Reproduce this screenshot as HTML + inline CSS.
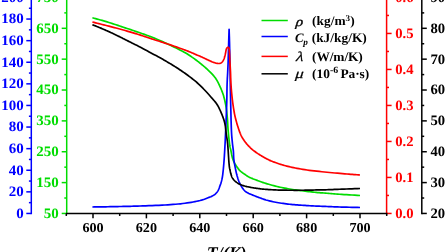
<!DOCTYPE html>
<html><head><meta charset="utf-8"><title>T/(K)</title>
<style>html,body{margin:0;padding:0;background:#fff;width:448px;height:252px;overflow:hidden}</style>
</head><body>
<svg width="448" height="252" viewBox="0 0 448 252" style="display:block;position:absolute;left:0;top:0" font-family="'Liberation Serif', serif" font-weight="bold" font-size="14.4" text-rendering="geometricPrecision">
<rect width="448" height="252" fill="#fff"/>
<polyline fill="none" stroke="#00dc00" stroke-width="1.7" stroke-linejoin="round" points="92.40,17.80 94.02,18.24 95.62,18.68 97.22,19.11 98.82,19.54 100.43,19.98 102.06,20.43 103.71,20.90 105.40,21.40 107.13,21.93 108.88,22.47 110.67,23.04 112.47,23.62 114.28,24.22 116.09,24.81 117.90,25.41 119.70,26.00 121.51,26.60 123.35,27.21 125.21,27.83 127.06,28.45 128.88,29.06 130.66,29.67 132.37,30.25 134.00,30.80 135.54,31.32 137.02,31.83 138.44,32.31 139.81,32.78 141.14,33.24 142.45,33.69 143.73,34.15 145.00,34.60 146.21,35.03 147.33,35.43 148.39,35.81 149.44,36.19 150.52,36.60 151.66,37.04 152.91,37.53 154.30,38.10 155.85,38.75 157.52,39.46 159.30,40.22 161.14,41.02 163.02,41.86 164.91,42.70 166.78,43.56 168.60,44.40 170.44,45.27 172.34,46.18 174.28,47.13 176.20,48.07 178.06,49.01 179.83,49.90 181.46,50.74 182.90,51.50 184.14,52.17 185.21,52.77 186.14,53.32 186.97,53.83 187.73,54.32 188.47,54.80 189.21,55.29 190.00,55.80 190.80,56.33 191.58,56.85 192.34,57.37 193.09,57.89 193.82,58.41 194.55,58.93 195.27,59.46 196.00,60.00 196.73,60.54 197.44,61.09 198.15,61.64 198.86,62.19 199.56,62.76 200.27,63.33 200.98,63.91 201.70,64.50 202.43,65.10 203.16,65.71 203.90,66.33 204.64,66.96 205.38,67.60 206.12,68.25 206.86,68.92 207.60,69.60 208.35,70.31 209.13,71.06 209.92,71.83 210.70,72.61 211.46,73.39 212.19,74.16 212.88,74.90 213.50,75.60 214.06,76.26 214.56,76.90 215.03,77.50 215.46,78.10 215.86,78.69 216.24,79.28 216.62,79.88 217.00,80.50 217.37,81.14 217.73,81.80 218.07,82.47 218.40,83.14 218.72,83.80 219.02,84.46 219.31,85.09 219.60,85.70 219.87,86.28 220.13,86.84 220.38,87.38 220.61,87.91 220.84,88.43 221.06,88.95 221.28,89.47 221.50,90.00 221.72,90.54 221.93,91.08 222.14,91.62 222.34,92.16 222.54,92.69 222.74,93.23 222.92,93.77 223.10,94.30 223.27,94.83 223.43,95.35 223.59,95.87 223.74,96.39 223.88,96.91 224.02,97.44 224.16,97.97 224.30,98.50 224.43,99.03 224.56,99.56 224.69,100.08 224.81,100.61 224.93,101.15 225.05,101.70 225.18,102.29 225.30,102.90 225.42,103.52 225.55,104.13 225.67,104.75 225.79,105.40 225.92,106.09 226.04,106.84 226.17,107.67 226.30,108.60 226.44,109.63 226.58,110.76 226.72,111.97 226.87,113.24 227.01,114.56 227.15,115.90 227.28,117.25 227.40,118.60 227.50,119.94 227.58,121.28 227.66,122.65 227.73,124.03 227.80,125.45 227.88,126.91 227.98,128.43 228.10,130.00 228.25,131.70 228.42,133.55 228.61,135.48 228.81,137.44 229.01,139.37 229.21,141.19 229.41,142.86 229.60,144.30 229.78,145.51 229.96,146.52 230.14,147.40 230.32,148.16 230.49,148.87 230.67,149.55 230.84,150.24 231.00,151.00 231.16,151.80 231.30,152.60 231.44,153.38 231.58,154.16 231.71,154.93 231.86,155.67 232.02,156.40 232.20,157.10 232.39,157.77 232.58,158.41 232.78,159.02 232.99,159.62 233.21,160.21 233.45,160.80 233.71,161.39 234.00,162.00 234.32,162.63 234.66,163.27 235.02,163.91 235.41,164.56 235.80,165.19 236.20,165.82 236.60,166.42 237.00,167.00 237.39,167.55 237.78,168.09 238.17,168.61 238.57,169.11 238.98,169.60 239.40,170.08 239.84,170.55 240.30,171.00 240.79,171.44 241.31,171.87 241.86,172.28 242.41,172.69 242.97,173.08 243.53,173.46 244.07,173.83 244.60,174.20 245.11,174.56 245.61,174.92 246.11,175.26 246.60,175.60 247.08,175.92 247.56,176.23 248.03,176.53 248.50,176.80 248.94,177.04 249.34,177.25 249.73,177.44 250.12,177.62 250.52,177.79 250.96,177.97 251.45,178.17 252.00,178.40 252.63,178.65 253.31,178.93 254.04,179.21 254.81,179.51 255.60,179.81 256.41,180.11 257.21,180.41 258.00,180.70 258.75,180.98 259.45,181.25 260.14,181.51 260.84,181.77 261.60,182.05 262.44,182.34 263.40,182.66 264.50,183.00 265.78,183.39 267.20,183.81 268.75,184.27 270.38,184.74 272.05,185.21 273.73,185.67 275.40,186.10 277.00,186.50 278.56,186.87 280.12,187.21 281.69,187.54 283.25,187.86 284.81,188.16 286.38,188.45 287.94,188.73 289.50,189.00 291.06,189.26 292.62,189.50 294.19,189.72 295.75,189.94 297.31,190.15 298.88,190.35 300.44,190.55 302.00,190.75 303.56,190.95 305.12,191.15 306.69,191.35 308.25,191.55 309.81,191.74 311.38,191.92 312.94,192.09 314.50,192.25 316.06,192.40 317.62,192.54 319.19,192.66 320.75,192.78 322.31,192.90 323.88,193.01 325.44,193.13 327.00,193.25 328.51,193.37 329.94,193.49 331.34,193.61 332.75,193.73 334.23,193.86 335.81,193.98 337.55,194.11 339.50,194.25 341.68,194.39 344.06,194.54 346.60,194.70 349.25,194.86 351.96,195.02 354.69,195.18 357.38,195.34 360.00,195.50"/>
<polyline fill="none" stroke="#00f" stroke-width="1.7" stroke-linejoin="round" points="92.40,207.00 94.62,206.96 96.86,206.93 99.11,206.89 101.36,206.85 103.59,206.81 105.78,206.78 107.92,206.74 110.00,206.70 112.00,206.66 113.93,206.63 115.82,206.59 117.66,206.56 119.49,206.52 121.31,206.48 123.14,206.44 125.00,206.40 126.81,206.36 128.52,206.32 130.19,206.28 131.88,206.24 133.64,206.20 135.55,206.14 137.65,206.08 140.00,206.00 142.68,205.91 145.66,205.81 148.86,205.70 152.19,205.58 155.55,205.46 158.87,205.32 162.05,205.16 165.00,205.00 167.77,204.82 170.47,204.64 173.09,204.44 175.62,204.23 178.09,204.01 180.47,203.78 182.77,203.52 185.00,203.25 187.15,202.96 189.22,202.65 191.21,202.32 193.12,201.98 194.96,201.63 196.72,201.26 198.40,200.89 200.00,200.50 201.53,200.09 202.99,199.65 204.37,199.19 205.67,198.72 206.89,198.25 208.02,197.80 209.06,197.38 210.00,197.00 210.82,196.67 211.51,196.37 212.10,196.11 212.60,195.86 213.05,195.61 213.46,195.36 213.87,195.09 214.30,194.80 214.73,194.48 215.14,194.14 215.52,193.78 215.88,193.42 216.21,193.05 216.53,192.69 216.82,192.34 217.10,192.00 217.35,191.68 217.57,191.37 217.77,191.07 217.95,190.78 218.12,190.48 218.28,190.17 218.44,189.85 218.60,189.50 218.76,189.13 218.92,188.74 219.07,188.34 219.22,187.93 219.36,187.51 219.51,187.09 219.65,186.67 219.80,186.25 219.95,185.85 220.10,185.46 220.25,185.07 220.40,184.68 220.55,184.27 220.70,183.85 220.85,183.39 221.00,182.90 221.15,182.37 221.31,181.82 221.46,181.25 221.62,180.65 221.77,180.03 221.92,179.38 222.06,178.70 222.20,178.00 222.33,177.29 222.44,176.58 222.56,175.86 222.66,175.11 222.77,174.30 222.87,173.43 222.98,172.47 223.10,171.40 223.22,170.23 223.35,168.97 223.47,167.63 223.60,166.23 223.73,164.75 223.85,163.22 223.98,161.63 224.10,160.00 224.22,158.30 224.34,156.50 224.45,154.64 224.57,152.72 224.68,150.78 224.79,148.83 224.90,146.90 225.00,145.00 225.10,143.20 225.18,141.50 225.26,139.85 225.34,138.17 225.42,136.41 225.51,134.50 225.60,132.39 225.70,130.00 225.81,127.26 225.94,124.19 226.08,120.90 226.22,117.46 226.36,113.99 226.49,110.58 226.60,107.31 226.70,104.30 226.78,101.47 226.84,98.72 226.89,96.04 226.92,93.46 226.96,90.99 227.00,88.62 227.04,86.39 227.10,84.30 227.17,82.39 227.24,80.68 227.31,79.11 227.39,77.65 227.47,76.25 227.55,74.87 227.63,73.47 227.70,72.00 227.77,70.53 227.83,69.12 227.89,67.74 227.96,66.36 228.02,64.93 228.08,63.41 228.14,61.79 228.20,60.00 228.26,58.00 228.33,55.80 228.39,53.46 228.46,51.04 228.52,48.63 228.58,46.27 228.64,44.04 228.70,42.00 228.75,40.16 228.81,38.45 228.86,36.85 228.91,35.32 228.95,33.83 229.00,32.35 229.05,30.85 229.10,29.30 229.15,30.85 229.20,32.35 229.25,33.83 229.30,35.32 229.35,36.85 229.40,38.45 229.45,40.16 229.50,42.00 229.55,44.04 229.60,46.27 229.66,48.63 229.71,51.04 229.76,53.46 229.81,55.80 229.86,58.00 229.90,60.00 229.93,61.79 229.96,63.41 229.99,64.93 230.01,66.36 230.03,67.74 230.05,69.12 230.08,70.53 230.10,72.00 230.12,73.47 230.15,74.87 230.17,76.25 230.19,77.65 230.21,79.11 230.24,80.68 230.27,82.39 230.30,84.30 230.34,86.39 230.38,88.62 230.42,90.99 230.47,93.46 230.52,96.04 230.57,98.72 230.63,101.47 230.70,104.30 230.77,107.33 230.85,110.62 230.93,114.08 231.01,117.59 231.10,121.04 231.20,124.33 231.30,127.36 231.40,130.00 231.51,132.26 231.63,134.25 231.75,136.01 231.88,137.58 232.01,139.02 232.14,140.37 232.27,141.68 232.40,143.00 232.53,144.27 232.66,145.42 232.80,146.48 232.93,147.48 233.06,148.44 233.19,149.39 233.30,150.37 233.40,151.40 233.48,152.45 233.52,153.47 233.55,154.49 233.58,155.51 233.62,156.56 233.67,157.65 233.76,158.79 233.90,160.00 234.09,161.33 234.33,162.80 234.61,164.35 234.90,165.92 235.20,167.46 235.49,168.93 235.76,170.26 236.00,171.40 236.20,172.34 236.37,173.12 236.53,173.78 236.68,174.36 236.83,174.88 236.97,175.39 237.13,175.92 237.30,176.50 237.48,177.12 237.66,177.73 237.83,178.34 238.02,178.95 238.21,179.56 238.42,180.17 238.65,180.78 238.90,181.40 239.17,182.03 239.47,182.68 239.78,183.34 240.11,183.99 240.44,184.64 240.79,185.28 241.14,185.90 241.50,186.50 241.86,187.08 242.23,187.66 242.61,188.22 243.00,188.77 243.39,189.30 243.79,189.80 244.19,190.27 244.60,190.70 245.01,191.08 245.41,191.42 245.83,191.72 246.24,192.00 246.67,192.26 247.10,192.50 247.54,192.75 248.00,193.00 248.45,193.24 248.88,193.46 249.30,193.66 249.74,193.86 250.22,194.07 250.74,194.28 251.33,194.53 252.00,194.80 252.77,195.11 253.63,195.46 254.56,195.82 255.53,196.20 256.53,196.59 257.54,196.97 258.54,197.35 259.50,197.70 260.42,198.04 261.32,198.37 262.20,198.70 263.09,199.02 264.00,199.33 264.95,199.64 265.94,199.95 267.00,200.25 268.11,200.55 269.27,200.85 270.46,201.14 271.69,201.43 272.96,201.71 274.27,201.98 275.61,202.24 277.00,202.50 278.44,202.75 279.95,202.99 281.50,203.23 283.09,203.45 284.70,203.67 286.32,203.88 287.92,204.07 289.50,204.25 291.06,204.41 292.62,204.56 294.19,204.69 295.75,204.81 297.31,204.93 298.88,205.04 300.44,205.14 302.00,205.25 303.56,205.36 305.12,205.46 306.69,205.56 308.25,205.66 309.81,205.75 311.38,205.84 312.94,205.92 314.50,206.00 316.06,206.07 317.62,206.14 319.19,206.21 320.75,206.27 322.31,206.32 323.88,206.38 325.44,206.44 327.00,206.50 328.51,206.56 329.94,206.62 331.34,206.69 332.75,206.75 334.23,206.81 335.81,206.88 337.55,206.94 339.50,207.00 341.68,207.06 344.06,207.12 346.60,207.19 349.25,207.25 351.96,207.31 354.69,207.38 357.38,207.44 360.00,207.50"/>
<polyline fill="none" stroke="#f00" stroke-width="1.7" stroke-linejoin="round" points="92.40,22.00 94.02,22.41 95.62,22.82 97.22,23.22 98.82,23.62 100.43,24.03 102.06,24.45 103.71,24.87 105.40,25.30 107.13,25.74 108.88,26.19 110.67,26.64 112.47,27.10 114.28,27.57 116.09,28.04 117.90,28.52 119.70,29.00 121.51,29.50 123.35,30.01 125.21,30.53 127.06,31.06 128.88,31.59 130.66,32.11 132.37,32.61 134.00,33.10 135.54,33.57 137.02,34.03 138.44,34.47 139.81,34.91 141.14,35.34 142.45,35.77 143.73,36.19 145.00,36.60 146.21,37.00 147.33,37.37 148.39,37.73 149.44,38.08 150.52,38.45 151.66,38.83 152.91,39.24 154.30,39.70 155.85,40.20 157.52,40.74 159.30,41.30 161.14,41.88 163.02,42.48 164.91,43.09 166.78,43.70 168.60,44.30 170.44,44.92 172.34,45.58 174.28,46.25 176.20,46.92 178.06,47.58 179.83,48.20 181.46,48.78 182.90,49.30 184.14,49.75 185.21,50.14 186.14,50.49 186.97,50.80 187.73,51.10 188.47,51.39 189.21,51.68 190.00,52.00 190.80,52.33 191.58,52.66 192.34,52.99 193.09,53.32 193.82,53.64 194.55,53.97 195.27,54.29 196.00,54.60 196.73,54.91 197.45,55.21 198.16,55.50 198.87,55.79 199.58,56.09 200.28,56.38 200.99,56.69 201.70,57.00 202.41,57.32 203.12,57.66 203.84,58.00 204.55,58.34 205.26,58.69 205.97,59.03 206.69,59.37 207.40,59.70 208.12,60.03 208.86,60.37 209.60,60.71 210.34,61.04 211.07,61.37 211.77,61.67 212.45,61.95 213.10,62.20 213.71,62.42 214.31,62.62 214.88,62.80 215.42,62.96 215.95,63.10 216.46,63.22 216.94,63.32 217.40,63.40 217.83,63.46 218.24,63.50 218.63,63.52 218.99,63.52 219.33,63.50 219.66,63.46 219.99,63.39 220.30,63.30 220.60,63.18 220.89,63.04 221.16,62.88 221.43,62.69 221.68,62.48 221.92,62.24 222.16,61.98 222.40,61.70 222.64,61.39 222.86,61.06 223.09,60.70 223.31,60.32 223.52,59.92 223.72,59.49 223.91,59.06 224.10,58.60 224.28,58.12 224.44,57.63 224.60,57.11 224.74,56.57 224.89,56.02 225.03,55.45 225.16,54.88 225.30,54.30 225.43,53.69 225.56,53.02 225.69,52.33 225.81,51.64 225.93,50.96 226.05,50.33 226.17,49.77 226.30,49.30 226.43,48.92 226.57,48.60 226.70,48.35 226.84,48.14 226.98,47.97 227.12,47.83 227.26,47.71 227.40,47.60 227.55,47.50 227.70,47.42 227.86,47.37 228.03,47.34 228.18,47.35 228.33,47.39 228.47,47.47 228.60,47.60 228.71,47.72 228.81,47.82 228.90,47.93 228.99,48.09 229.07,48.34 229.14,48.71 229.22,49.25 229.30,50.00 229.38,51.00 229.46,52.24 229.53,53.65 229.61,55.19 229.68,56.79 229.75,58.40 229.83,59.95 229.90,61.40 229.98,62.77 230.06,64.14 230.14,65.50 230.22,66.85 230.30,68.18 230.37,69.48 230.44,70.76 230.50,72.00 230.55,73.20 230.59,74.36 230.62,75.49 230.65,76.60 230.68,77.70 230.71,78.79 230.75,79.89 230.80,81.00 230.86,82.12 230.92,83.23 230.99,84.33 231.06,85.44 231.13,86.55 231.21,87.68 231.30,88.83 231.40,90.00 231.50,91.21 231.62,92.46 231.74,93.74 231.86,95.02 231.99,96.31 232.13,97.58 232.26,98.81 232.40,100.00 232.54,101.14 232.68,102.25 232.82,103.33 232.96,104.39 233.11,105.44 233.27,106.49 233.43,107.54 233.60,108.60 233.77,109.66 233.94,110.70 234.12,111.73 234.30,112.76 234.49,113.81 234.71,114.87 234.94,115.97 235.20,117.10 235.49,118.29 235.81,119.54 236.16,120.83 236.52,122.14 236.89,123.44 237.26,124.71 237.64,125.94 238.00,127.10 238.36,128.21 238.72,129.29 239.08,130.34 239.44,131.36 239.81,132.34 240.17,133.28 240.54,134.17 240.90,135.00 241.26,135.77 241.61,136.47 241.97,137.11 242.32,137.71 242.68,138.29 243.04,138.85 243.41,139.42 243.80,140.00 244.19,140.59 244.59,141.16 245.00,141.73 245.41,142.29 245.84,142.85 246.28,143.40 246.73,143.95 247.20,144.50 247.69,145.05 248.20,145.60 248.72,146.14 249.25,146.69 249.80,147.23 250.35,147.76 250.92,148.28 251.50,148.80 252.09,149.31 252.69,149.81 253.30,150.31 253.93,150.80 254.56,151.28 255.20,151.76 255.85,152.23 256.50,152.70 257.17,153.16 257.85,153.62 258.55,154.07 259.25,154.52 259.95,154.96 260.65,155.38 261.33,155.80 262.00,156.20 262.65,156.59 263.29,156.96 263.91,157.32 264.53,157.67 265.15,158.02 265.76,158.35 266.38,158.68 267.00,159.00 267.59,159.30 268.13,159.58 268.66,159.85 269.19,160.11 269.76,160.37 270.40,160.65 271.14,160.96 272.00,161.30 273.01,161.69 274.15,162.11 275.38,162.57 276.69,163.04 278.03,163.51 279.38,163.97 280.72,164.40 282.00,164.80 283.22,165.16 284.38,165.49 285.53,165.80 286.69,166.10 287.88,166.39 289.15,166.68 290.51,166.98 292.00,167.30 293.60,167.63 295.28,167.97 297.04,168.32 298.88,168.67 300.79,169.01 302.78,169.35 304.85,169.68 307.00,170.00 309.26,170.31 311.65,170.61 314.13,170.90 316.69,171.18 319.28,171.46 321.88,171.73 324.47,172.00 327.00,172.25 329.55,172.50 332.16,172.74 334.81,172.98 337.44,173.20 340.01,173.42 342.49,173.63 344.83,173.82 347.00,174.00 348.96,174.16 350.74,174.30 352.39,174.43 353.94,174.55 355.43,174.66 356.91,174.77 358.42,174.88 360.00,175.00"/>
<polyline fill="none" stroke="#000" stroke-width="1.7" stroke-linejoin="round" points="92.40,24.70 93.37,25.09 94.35,25.49 95.35,25.90 96.34,26.30 97.31,26.70 98.25,27.08 99.16,27.45 100.00,27.80 100.77,28.12 101.48,28.41 102.13,28.69 102.76,28.96 103.38,29.22 104.02,29.49 104.68,29.78 105.40,30.10 106.16,30.44 106.94,30.78 107.74,31.14 108.56,31.51 109.39,31.89 110.24,32.28 111.11,32.69 112.00,33.10 112.93,33.54 113.90,34.00 114.91,34.48 115.93,34.97 116.94,35.45 117.92,35.93 118.84,36.38 119.70,36.80 120.45,37.17 121.11,37.50 121.70,37.81 122.27,38.10 122.85,38.40 123.47,38.72 124.18,39.08 125.00,39.50 125.97,39.99 127.06,40.53 128.24,41.12 129.46,41.73 130.68,42.34 131.87,42.94 132.99,43.50 134.00,44.00 134.84,44.41 135.52,44.75 136.10,45.03 136.67,45.30 137.27,45.60 137.99,45.95 138.87,46.41 140.00,47.00 141.44,47.77 143.17,48.69 145.09,49.72 147.11,50.81 149.13,51.91 151.06,52.95 152.82,53.90 154.30,54.70 155.50,55.34 156.49,55.87 157.33,56.32 158.07,56.71 158.76,57.07 159.44,57.44 160.17,57.84 161.00,58.30 161.92,58.82 162.86,59.36 163.84,59.91 164.82,60.48 165.80,61.05 166.76,61.62 167.70,62.17 168.60,62.70 169.43,63.19 170.20,63.64 170.93,64.08 171.65,64.51 172.39,64.95 173.17,65.44 174.04,65.98 175.00,66.60 176.07,67.29 177.22,68.04 178.44,68.83 179.71,69.67 181.02,70.54 182.35,71.44 183.68,72.36 185.00,73.30 186.34,74.27 187.74,75.28 189.16,76.33 190.59,77.40 192.01,78.48 193.40,79.57 194.73,80.64 196.00,81.70 197.20,82.75 198.35,83.79 199.47,84.84 200.54,85.88 201.59,86.92 202.61,87.96 203.61,88.98 204.60,90.00 205.57,91.01 206.51,92.02 207.43,93.03 208.33,94.02 209.21,95.01 210.06,95.99 210.89,96.95 211.70,97.90 212.48,98.80 213.24,99.65 213.97,100.46 214.68,101.28 215.38,102.11 216.06,102.99 216.73,103.95 217.40,105.00 218.07,106.18 218.76,107.47 219.43,108.84 220.09,110.26 220.73,111.68 221.34,113.09 221.89,114.44 222.40,115.70 222.85,116.87 223.25,117.96 223.61,119.02 223.93,120.04 224.23,121.06 224.50,122.10 224.75,123.17 225.00,124.30 225.22,125.48 225.41,126.70 225.58,127.95 225.72,129.21 225.86,130.49 226.00,131.77 226.14,133.04 226.30,134.30 226.47,135.48 226.64,136.57 226.82,137.61 226.99,138.68 227.17,139.82 227.35,141.10 227.52,142.57 227.70,144.30 227.88,146.41 228.05,148.90 228.23,151.63 228.41,154.48 228.59,157.31 228.76,159.97 228.93,162.35 229.10,164.30 229.26,165.83 229.42,167.06 229.58,168.06 229.73,168.88 229.88,169.56 230.03,170.17 230.17,170.77 230.30,171.40 230.42,172.02 230.54,172.56 230.65,173.04 230.75,173.46 230.85,173.86 230.96,174.23 231.08,174.61 231.20,175.00 231.33,175.40 231.46,175.78 231.59,176.15 231.72,176.51 231.87,176.86 232.03,177.21 232.20,177.55 232.40,177.90 232.61,178.25 232.84,178.60 233.09,178.94 233.34,179.29 233.61,179.63 233.90,179.96 234.19,180.28 234.50,180.60 234.82,180.91 235.15,181.21 235.50,181.51 235.86,181.80 236.23,182.08 236.61,182.36 237.00,182.63 237.40,182.90 237.81,183.16 238.22,183.41 238.64,183.65 239.07,183.89 239.52,184.13 239.99,184.36 240.48,184.58 241.00,184.80 241.55,185.02 242.13,185.23 242.73,185.44 243.35,185.64 243.99,185.84 244.65,186.04 245.32,186.22 246.00,186.40 246.70,186.57 247.43,186.74 248.18,186.89 248.94,187.04 249.71,187.19 250.48,187.33 251.24,187.47 252.00,187.60 252.75,187.73 253.49,187.85 254.23,187.97 254.97,188.08 255.71,188.19 256.46,188.29 257.23,188.40 258.00,188.50 258.75,188.60 259.45,188.70 260.14,188.79 260.84,188.88 261.60,188.98 262.44,189.07 263.40,189.16 264.50,189.25 265.78,189.35 267.20,189.45 268.75,189.55 270.38,189.66 272.05,189.76 273.73,189.85 275.40,189.93 277.00,190.00 278.56,190.06 280.12,190.10 281.69,190.14 283.25,190.17 284.81,190.20 286.38,190.22 287.94,190.23 289.50,190.25 291.06,190.26 292.62,190.27 294.19,190.28 295.75,190.28 297.31,190.28 298.88,190.27 300.44,190.26 302.00,190.25 303.56,190.23 305.12,190.21 306.69,190.17 308.25,190.14 309.81,190.10 311.38,190.07 312.94,190.03 314.50,190.00 316.06,189.97 317.62,189.94 319.19,189.92 320.75,189.89 322.31,189.86 323.88,189.83 325.44,189.79 327.00,189.75 328.51,189.70 329.94,189.65 331.34,189.59 332.75,189.53 334.23,189.47 335.81,189.40 337.55,189.33 339.50,189.25 341.68,189.17 344.06,189.08 346.60,188.99 349.25,188.89 351.96,188.79 354.69,188.69 357.38,188.60 360.00,188.50"/>
<line x1="31.3" y1="-3.55" x2="31.3" y2="214.2" stroke="#00f" stroke-width="1.5"/>
<line x1="31.3" y1="213.45" x2="26.3" y2="213.45" stroke="#00f" stroke-width="1.5"/>
<line x1="31.3" y1="202.65" x2="28.900000000000002" y2="202.65" stroke="#00f" stroke-width="1.5"/>
<text transform="translate(23.7,217.85) scale(1.04,1)" fill="#00f" text-anchor="end">0</text>
<line x1="31.3" y1="191.85" x2="26.3" y2="191.85" stroke="#00f" stroke-width="1.5"/>
<line x1="31.3" y1="181.05" x2="28.900000000000002" y2="181.05" stroke="#00f" stroke-width="1.5"/>
<text transform="translate(23.7,196.25) scale(1.04,1)" fill="#00f" text-anchor="end">20</text>
<line x1="31.3" y1="170.25" x2="26.3" y2="170.25" stroke="#00f" stroke-width="1.5"/>
<line x1="31.3" y1="159.45" x2="28.900000000000002" y2="159.45" stroke="#00f" stroke-width="1.5"/>
<text transform="translate(23.7,174.65) scale(1.04,1)" fill="#00f" text-anchor="end">40</text>
<line x1="31.3" y1="148.65" x2="26.3" y2="148.65" stroke="#00f" stroke-width="1.5"/>
<line x1="31.3" y1="137.85" x2="28.900000000000002" y2="137.85" stroke="#00f" stroke-width="1.5"/>
<text transform="translate(23.7,153.05) scale(1.04,1)" fill="#00f" text-anchor="end">60</text>
<line x1="31.3" y1="127.05" x2="26.3" y2="127.05" stroke="#00f" stroke-width="1.5"/>
<line x1="31.3" y1="116.25" x2="28.900000000000002" y2="116.25" stroke="#00f" stroke-width="1.5"/>
<text transform="translate(23.7,131.45) scale(1.04,1)" fill="#00f" text-anchor="end">80</text>
<line x1="31.3" y1="105.45" x2="26.3" y2="105.45" stroke="#00f" stroke-width="1.5"/>
<line x1="31.3" y1="94.65" x2="28.900000000000002" y2="94.65" stroke="#00f" stroke-width="1.5"/>
<text transform="translate(23.7,109.85) scale(1.04,1)" fill="#00f" text-anchor="end">100</text>
<line x1="31.3" y1="83.85" x2="26.3" y2="83.85" stroke="#00f" stroke-width="1.5"/>
<line x1="31.3" y1="73.05" x2="28.900000000000002" y2="73.05" stroke="#00f" stroke-width="1.5"/>
<text transform="translate(23.7,88.25) scale(1.04,1)" fill="#00f" text-anchor="end">120</text>
<line x1="31.3" y1="62.25" x2="26.3" y2="62.25" stroke="#00f" stroke-width="1.5"/>
<line x1="31.3" y1="51.45" x2="28.900000000000002" y2="51.45" stroke="#00f" stroke-width="1.5"/>
<text transform="translate(23.7,66.65) scale(1.04,1)" fill="#00f" text-anchor="end">140</text>
<line x1="31.3" y1="40.65" x2="26.3" y2="40.65" stroke="#00f" stroke-width="1.5"/>
<line x1="31.3" y1="29.85" x2="28.900000000000002" y2="29.85" stroke="#00f" stroke-width="1.5"/>
<text transform="translate(23.7,45.05) scale(1.04,1)" fill="#00f" text-anchor="end">160</text>
<line x1="31.3" y1="19.05" x2="26.3" y2="19.05" stroke="#00f" stroke-width="1.5"/>
<line x1="31.3" y1="8.25" x2="28.900000000000002" y2="8.25" stroke="#00f" stroke-width="1.5"/>
<text transform="translate(23.7,23.45) scale(1.04,1)" fill="#00f" text-anchor="end">180</text>
<line x1="31.3" y1="-2.55" x2="26.3" y2="-2.55" stroke="#00f" stroke-width="1.5"/>
<text transform="translate(23.7,1.50) scale(1.04,1)" fill="#00f" text-anchor="end">200</text>
<line x1="66.7" y1="-3.55" x2="66.7" y2="214.2" stroke="#00dc00" stroke-width="1.5"/>
<line x1="66.7" y1="213.45" x2="61.7" y2="213.45" stroke="#00dc00" stroke-width="1.5"/>
<line x1="66.7" y1="198.02" x2="64.3" y2="198.02" stroke="#00dc00" stroke-width="1.5"/>
<text transform="translate(58.65,217.85) scale(1.04,1)" fill="#00dc00" text-anchor="end">50</text>
<line x1="66.7" y1="182.59" x2="61.7" y2="182.59" stroke="#00dc00" stroke-width="1.5"/>
<line x1="66.7" y1="167.16" x2="64.3" y2="167.16" stroke="#00dc00" stroke-width="1.5"/>
<text transform="translate(58.65,186.99) scale(1.04,1)" fill="#00dc00" text-anchor="end">150</text>
<line x1="66.7" y1="151.74" x2="61.7" y2="151.74" stroke="#00dc00" stroke-width="1.5"/>
<line x1="66.7" y1="136.31" x2="64.3" y2="136.31" stroke="#00dc00" stroke-width="1.5"/>
<text transform="translate(58.65,156.14) scale(1.04,1)" fill="#00dc00" text-anchor="end">250</text>
<line x1="66.7" y1="120.88" x2="61.7" y2="120.88" stroke="#00dc00" stroke-width="1.5"/>
<line x1="66.7" y1="105.45" x2="64.3" y2="105.45" stroke="#00dc00" stroke-width="1.5"/>
<text transform="translate(58.65,125.28) scale(1.04,1)" fill="#00dc00" text-anchor="end">350</text>
<line x1="66.7" y1="90.02" x2="61.7" y2="90.02" stroke="#00dc00" stroke-width="1.5"/>
<line x1="66.7" y1="74.59" x2="64.3" y2="74.59" stroke="#00dc00" stroke-width="1.5"/>
<text transform="translate(58.65,94.42) scale(1.04,1)" fill="#00dc00" text-anchor="end">450</text>
<line x1="66.7" y1="59.16" x2="61.7" y2="59.16" stroke="#00dc00" stroke-width="1.5"/>
<line x1="66.7" y1="43.74" x2="64.3" y2="43.74" stroke="#00dc00" stroke-width="1.5"/>
<text transform="translate(58.65,63.56) scale(1.04,1)" fill="#00dc00" text-anchor="end">550</text>
<line x1="66.7" y1="28.31" x2="61.7" y2="28.31" stroke="#00dc00" stroke-width="1.5"/>
<line x1="66.7" y1="12.88" x2="64.3" y2="12.88" stroke="#00dc00" stroke-width="1.5"/>
<text transform="translate(58.65,32.71) scale(1.04,1)" fill="#00dc00" text-anchor="end">650</text>
<line x1="66.7" y1="-2.55" x2="61.7" y2="-2.55" stroke="#00dc00" stroke-width="1.5"/>
<text transform="translate(58.65,1.50) scale(1.04,1)" fill="#00dc00" text-anchor="end">750</text>
<line x1="386.6" y1="-3.55" x2="386.6" y2="214.2" stroke="#f00" stroke-width="1.5"/>
<line x1="386.6" y1="213.45" x2="391.6" y2="213.45" stroke="#f00" stroke-width="1.5"/>
<line x1="386.6" y1="195.45" x2="389.0" y2="195.45" stroke="#f00" stroke-width="1.5"/>
<text transform="translate(395.25,217.85) scale(1.02,1)" fill="#f00" text-anchor="start">0.0</text>
<line x1="386.6" y1="177.45" x2="391.6" y2="177.45" stroke="#f00" stroke-width="1.5"/>
<line x1="386.6" y1="159.45" x2="389.0" y2="159.45" stroke="#f00" stroke-width="1.5"/>
<text transform="translate(395.25,181.85) scale(1.02,1)" fill="#f00" text-anchor="start">0.1</text>
<line x1="386.6" y1="141.45" x2="391.6" y2="141.45" stroke="#f00" stroke-width="1.5"/>
<line x1="386.6" y1="123.45" x2="389.0" y2="123.45" stroke="#f00" stroke-width="1.5"/>
<text transform="translate(395.25,145.85) scale(1.02,1)" fill="#f00" text-anchor="start">0.2</text>
<line x1="386.6" y1="105.45" x2="391.6" y2="105.45" stroke="#f00" stroke-width="1.5"/>
<line x1="386.6" y1="87.45" x2="389.0" y2="87.45" stroke="#f00" stroke-width="1.5"/>
<text transform="translate(395.25,109.85) scale(1.02,1)" fill="#f00" text-anchor="start">0.3</text>
<line x1="386.6" y1="69.45" x2="391.6" y2="69.45" stroke="#f00" stroke-width="1.5"/>
<line x1="386.6" y1="51.45" x2="389.0" y2="51.45" stroke="#f00" stroke-width="1.5"/>
<text transform="translate(395.25,73.85) scale(1.02,1)" fill="#f00" text-anchor="start">0.4</text>
<line x1="386.6" y1="33.45" x2="391.6" y2="33.45" stroke="#f00" stroke-width="1.5"/>
<line x1="386.6" y1="15.45" x2="389.0" y2="15.45" stroke="#f00" stroke-width="1.5"/>
<text transform="translate(395.25,37.85) scale(1.02,1)" fill="#f00" text-anchor="start">0.5</text>
<line x1="386.6" y1="-2.55" x2="391.6" y2="-2.55" stroke="#f00" stroke-width="1.5"/>
<text transform="translate(395.25,1.50) scale(1.02,1)" fill="#f00" text-anchor="start">0.6</text>
<line x1="421.8" y1="-3.55" x2="421.8" y2="214.2" stroke="#000" stroke-width="1.5"/>
<line x1="421.8" y1="213.45" x2="426.8" y2="213.45" stroke="#000" stroke-width="1.5"/>
<line x1="421.8" y1="198.02" x2="424.2" y2="198.02" stroke="#000" stroke-width="1.5"/>
<text transform="translate(430.4,217.85) scale(1.02,1)" fill="#000" text-anchor="start">20</text>
<line x1="421.8" y1="182.59" x2="426.8" y2="182.59" stroke="#000" stroke-width="1.5"/>
<line x1="421.8" y1="167.16" x2="424.2" y2="167.16" stroke="#000" stroke-width="1.5"/>
<text transform="translate(430.4,186.99) scale(1.02,1)" fill="#000" text-anchor="start">30</text>
<line x1="421.8" y1="151.74" x2="426.8" y2="151.74" stroke="#000" stroke-width="1.5"/>
<line x1="421.8" y1="136.31" x2="424.2" y2="136.31" stroke="#000" stroke-width="1.5"/>
<text transform="translate(430.4,156.14) scale(1.02,1)" fill="#000" text-anchor="start">40</text>
<line x1="421.8" y1="120.88" x2="426.8" y2="120.88" stroke="#000" stroke-width="1.5"/>
<line x1="421.8" y1="105.45" x2="424.2" y2="105.45" stroke="#000" stroke-width="1.5"/>
<text transform="translate(430.4,125.28) scale(1.02,1)" fill="#000" text-anchor="start">50</text>
<line x1="421.8" y1="90.02" x2="426.8" y2="90.02" stroke="#000" stroke-width="1.5"/>
<line x1="421.8" y1="74.59" x2="424.2" y2="74.59" stroke="#000" stroke-width="1.5"/>
<text transform="translate(430.4,94.42) scale(1.02,1)" fill="#000" text-anchor="start">60</text>
<line x1="421.8" y1="59.16" x2="426.8" y2="59.16" stroke="#000" stroke-width="1.5"/>
<line x1="421.8" y1="43.74" x2="424.2" y2="43.74" stroke="#000" stroke-width="1.5"/>
<text transform="translate(430.4,63.56) scale(1.02,1)" fill="#000" text-anchor="start">70</text>
<line x1="421.8" y1="28.31" x2="426.8" y2="28.31" stroke="#000" stroke-width="1.5"/>
<line x1="421.8" y1="12.88" x2="424.2" y2="12.88" stroke="#000" stroke-width="1.5"/>
<text transform="translate(430.4,32.71) scale(1.02,1)" fill="#000" text-anchor="start">80</text>
<line x1="421.8" y1="-2.55" x2="426.8" y2="-2.55" stroke="#000" stroke-width="1.5"/>
<text transform="translate(430.4,1.50) scale(1.02,1)" fill="#000" text-anchor="start">90</text>
<line x1="65.95" y1="213.54999999999998" x2="387.35" y2="213.54999999999998" stroke="#000" stroke-width="1.5"/>
<line x1="66.30" y1="213.54999999999998" x2="66.30" y2="215.95" stroke="#000" stroke-width="1.5"/>
<line x1="93.00" y1="213.54999999999998" x2="93.00" y2="218.35" stroke="#000" stroke-width="1.5"/>
<text transform="translate(93.00,232.35) scale(1.04,1)" font-size="13.6" fill="#000" text-anchor="middle">600</text>
<line x1="119.70" y1="213.54999999999998" x2="119.70" y2="215.95" stroke="#000" stroke-width="1.5"/>
<line x1="146.40" y1="213.54999999999998" x2="146.40" y2="218.35" stroke="#000" stroke-width="1.5"/>
<text transform="translate(146.40,232.35) scale(1.04,1)" font-size="13.6" fill="#000" text-anchor="middle">620</text>
<line x1="173.10" y1="213.54999999999998" x2="173.10" y2="215.95" stroke="#000" stroke-width="1.5"/>
<line x1="199.80" y1="213.54999999999998" x2="199.80" y2="218.35" stroke="#000" stroke-width="1.5"/>
<text transform="translate(199.80,232.35) scale(1.04,1)" font-size="13.6" fill="#000" text-anchor="middle">640</text>
<line x1="226.50" y1="213.54999999999998" x2="226.50" y2="215.95" stroke="#000" stroke-width="1.5"/>
<line x1="253.20" y1="213.54999999999998" x2="253.20" y2="218.35" stroke="#000" stroke-width="1.5"/>
<text transform="translate(253.20,232.35) scale(1.04,1)" font-size="13.6" fill="#000" text-anchor="middle">660</text>
<line x1="279.90" y1="213.54999999999998" x2="279.90" y2="215.95" stroke="#000" stroke-width="1.5"/>
<line x1="306.60" y1="213.54999999999998" x2="306.60" y2="218.35" stroke="#000" stroke-width="1.5"/>
<text transform="translate(306.60,232.35) scale(1.04,1)" font-size="13.6" fill="#000" text-anchor="middle">680</text>
<line x1="333.30" y1="213.54999999999998" x2="333.30" y2="215.95" stroke="#000" stroke-width="1.5"/>
<line x1="360.00" y1="213.54999999999998" x2="360.00" y2="218.35" stroke="#000" stroke-width="1.5"/>
<text transform="translate(360.00,232.35) scale(1.04,1)" font-size="13.6" fill="#000" text-anchor="middle">700</text>
<line x1="386.70" y1="213.54999999999998" x2="386.70" y2="215.95" stroke="#000" stroke-width="1.5"/>
<text x="226.7" y="258.9" fill="#000" text-anchor="middle" font-style="italic" font-size="17.9">T/(K)</text>
<g font-size="13.6">
<line x1="261.5" y1="20.5" x2="287.8" y2="20.5" stroke="#00dc00" stroke-width="1.5"/>
<line x1="261.5" y1="36.5" x2="287.8" y2="36.5" stroke="#00f" stroke-width="1.5"/>
<line x1="261.5" y1="56.4" x2="287.8" y2="56.4" stroke="#f00" stroke-width="1.5"/>
<line x1="261.5" y1="73.8" x2="287.8" y2="73.8" stroke="#000" stroke-width="1.5"/>
<text transform="translate(294.7,25.5) skewX(-17) scale(1.1,1)" font-weight="normal" stroke="#000" stroke-width="0.4">ρ</text><text transform="translate(312.1,25.3) scale(1.03,1)" font-size="13.0">(kg/m<tspan dy="-4.4" font-size="8.9">3</tspan><tspan dy="4.4">)</tspan></text>
<text x="294.9" y="41.7" font-style="italic" font-size="12.8">C</text><text x="303.3" y="44.9" font-style="italic" font-size="9.2">p</text><text transform="translate(311.7,41.6) scale(1.03,1)" font-size="13.0">(kJ/kg/K)</text>
<text transform="translate(295.0,61.3) skewX(-17) scale(1.18,1.0)" font-weight="normal" stroke="#000" stroke-width="0.25">λ</text><text transform="translate(312.1,61.3) scale(1.03,1)" font-size="13.0" letter-spacing="-0.1">(W/m/K)</text>
<text transform="translate(294.2,77.9) skewX(-17) scale(1.22,1)" font-weight="normal" stroke="#000" stroke-width="0.25">μ</text><text transform="translate(312.1,77.9) scale(1.03,1)" font-size="13.0">(10<tspan dy="-4.5" font-size="9.6">-6</tspan></text><text transform="translate(340.5,77.9) scale(1.03,1)" font-size="13.0" letter-spacing="-0.1">Pa·s)</text>
</g>
</svg>
</body></html>
